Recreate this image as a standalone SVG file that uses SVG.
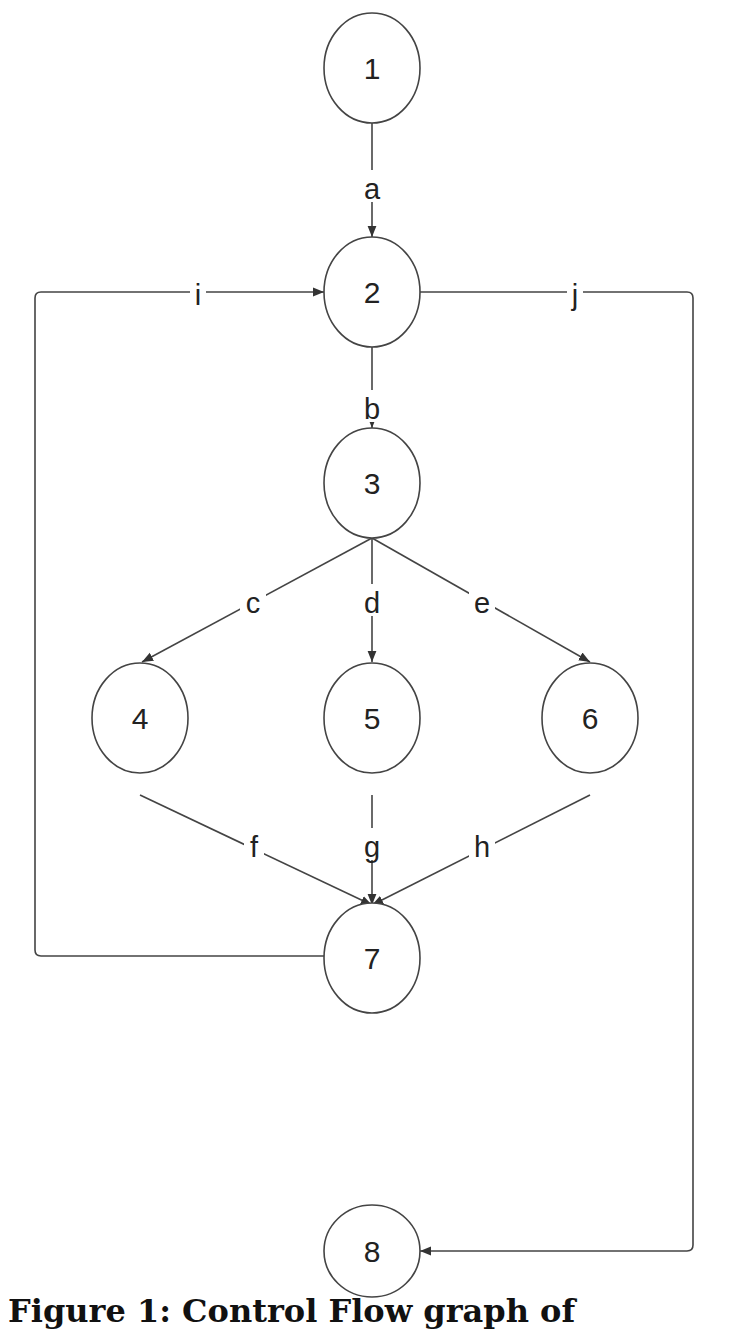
<svg xmlns="http://www.w3.org/2000/svg" width="738" height="1333" viewBox="0 0 738 1333">
<defs>
<style>
.n ellipse{fill:#fff;stroke:#444;stroke-width:1.6}
.n text{font-family:"Liberation Sans",Arial,sans-serif;font-size:30px;text-anchor:middle;fill:#222}
.e path{fill:none;stroke:#444;stroke-width:1.6}
.l text{font-family:"Liberation Sans",Arial,sans-serif;font-size:29px;text-anchor:middle;fill:#222}
.l rect{fill:#fff}
</style>
<marker id="ar" viewBox="0 0 10 10" refX="10" refY="5" markerWidth="7" markerHeight="7" orient="auto"><path d="M0,1 L10,5 L0,9 Z" fill="#333"/></marker>
</defs>
<rect width="738" height="1333" fill="#fff"/>
<g id="connectors" class="e">
<path d="M372,123 V237" marker-end="url(#ar)"/>
<path d="M372,347 V428" marker-end="url(#ar)"/>
<path d="M372,538 L142,662" marker-end="url(#ar)"/>
<path d="M372,538 V662" marker-end="url(#ar)"/>
<path d="M372,538 L590,662" marker-end="url(#ar)"/>
<path d="M140,795 L372,905" marker-end="url(#ar)"/>
<path d="M372,795 V905" marker-end="url(#ar)"/>
<path d="M590,795 L372,905" marker-end="url(#ar)"/>
<path d="M324,956 H41 Q35,956 35,950 V298 Q35,292 41,292 H324" marker-end="url(#ar)"/>
<path d="M420,292 H687 Q693,292 693,298 V1245 Q693,1251 687,1251 H420" marker-end="url(#ar)"/>
</g>
<g id="labels" class="l">
<rect x="360" y="170" width="24" height="32"/><text x="372" y="199">a</text>
<rect x="360" y="390" width="24" height="32"/><text x="372" y="419">b</text>
<rect x="240" y="584" width="26" height="32"/><text x="253" y="613">c</text>
<rect x="360" y="584" width="24" height="32"/><text x="372" y="613">d</text>
<rect x="469" y="584" width="26" height="32"/><text x="482" y="613">e</text>
<rect x="244" y="828" width="20" height="32"/><text x="254" y="857">f</text>
<rect x="360" y="828" width="24" height="32"/><text x="372" y="857">g</text>
<rect x="469" y="828" width="26" height="32"/><text x="482" y="857">h</text>
<rect x="190" y="276" width="16" height="32"/><text x="198" y="305">i</text>
<rect x="567" y="276" width="16" height="32"/><text x="575" y="305">j</text>
</g>
<g id="node1" class="n"><ellipse cx="372" cy="68" rx="48" ry="55"/><text x="372" y="79">1</text></g>
<g id="node2" class="n"><ellipse cx="372" cy="292" rx="48" ry="55"/><text x="372" y="303">2</text></g>
<g id="node3" class="n"><ellipse cx="372" cy="483" rx="48" ry="55"/><text x="372" y="494">3</text></g>
<g id="node4" class="n"><ellipse cx="140" cy="718" rx="48" ry="55"/><text x="140" y="729">4</text></g>
<g id="node5" class="n"><ellipse cx="372" cy="718" rx="48" ry="55"/><text x="372" y="729">5</text></g>
<g id="node6" class="n"><ellipse cx="590" cy="718" rx="48" ry="55"/><text x="590" y="729">6</text></g>
<g id="node7" class="n"><ellipse cx="372" cy="958" rx="48" ry="55"/><text x="372" y="969">7</text></g>
<g id="node8" class="n"><ellipse cx="372" cy="1251" rx="48" ry="46"/><text x="372" y="1262">8</text></g>
<text x="8" y="1322" font-family="'DejaVu Serif',serif" font-weight="bold" font-size="32" fill="#111">Figure 1: Control Flow graph of</text>
</svg>
